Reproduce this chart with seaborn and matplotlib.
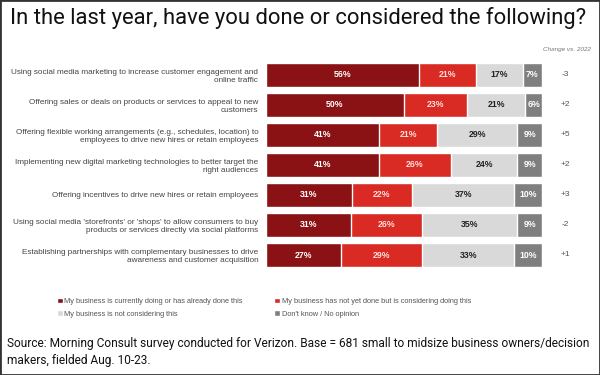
import numpy as np
import pandas as pd
import matplotlib.pyplot as plt
import seaborn as sns
from matplotlib.patches import Patch, Rectangle

# 데이터
items = [
    "Using social media marketing to increase customer engagement and\nonline traffic",
    "Offering sales or deals on products or services to appeal to new\ncustomers",
    "Offering flexible working arrangements (e.g., schedules, location) to\nemployees to drive new hires or retain employees",
    "Implementing new digital marketing technologies to better target the\nright audiences",
    "Offering incentives to drive new hires or retain employees",
    "Using social media 'storefronts' or 'shops' to allow consumers to buy\nproducts or services directly via social platforms",
    "Establishing partnerships with complementary businesses to drive\nawareness and customer acquisition",
]
doing = [56, 50, 41, 41, 31, 31, 27]
considering = [21, 23, 21, 26, 22, 26, 29]
not_considering = [17, 21, 29, 24, 37, 35, 33]
dont_know = [7, 6, 9, 9, 10, 9, 10]
change = ["-3", "+2", "+5", "+2", "+3", "-2", "+1"]

series_names = [
    "My business is currently doing or has already done this",
    "My business has not yet done but is considering doing this",
    "My business is not considering this",
    "Don't know / No opinion",
]
colors = ["#8a1114", "#d92b23", "#d9d9d9", "#7f7f7f"]
text_colors = ["white", "#fde0dc", "#222222", "white"]

sns.set_style("white")
plt.rcParams["font.family"] = ["Liberation Sans", "DejaVu Sans"]

df = pd.DataFrame({"item": items, "doing": doing, "considering": considering,
                   "not": not_considering, "dk": dont_know})
parts = ["doing", "considering", "not", "dk"]
# 반올림 때문에 합이 99~101 -> 100%로 맞춤
share = df[parts].div(df[parts].sum(axis=1), axis=0) * 100
cum = share.cumsum(axis=1)

fig = plt.figure(figsize=(6, 3.75), dpi=100)
ax = fig.add_axes([266 / 600, 1 - 270 / 375, 276 / 600, 210 / 375])

# 누적 막대: 큰 것부터 겹쳐 그리기
for k in range(3, -1, -1):
    sns.barplot(x=cum[parts[k]], y=df["item"], orient="h", color=colors[k],
                saturation=1, width=0.77, ax=ax)

ax.set_xlim(0, 100)
ax.set_xlabel("")
ax.set_ylabel("")
ax.set_xticks([])
for s in ax.spines.values():
    s.set_visible(False)
ax.tick_params(axis="y", length=0, pad=5.5)
for lab in ax.get_yticklabels():
    lab.set_fontsize(5.85)
    lab.set_color("#444444")
    lab.set_horizontalalignment("right")
    lab.set_multialignment("right")
    lab.set_linespacing(1.15)

# 값 라벨
for i in range(len(items)):
    left = 0
    for k, p in enumerate(parts):
        w = share[p][i]
        ax.text(left + w / 2, i, f"{df[p][i]}%", ha="center", va="center",
                fontsize=6.3, fontweight="bold", color=text_colors[k])
        left += w
    ax.text(108.5, i, change[i], ha="center", va="center", fontsize=6.0,
            color="#555555", clip_on=False)

fig.text(567 / 600, 1 - 49 / 375, "Change vs. 2022", ha="center", va="center",
         fontsize=4.6, style="italic", color="#777777")

fig.text(10 / 600, 1 - 18 / 375,
         "In the last year, have you done or considered the following?",
         ha="left", va="center", fontsize=15.8, family=["Roboto", "DejaVu Sans"],
         color="#111111")

handles = [Patch(facecolor=colors[k]) for k in [0, 2, 1, 3]]
labels = [series_names[k] for k in [0, 2, 1, 3]]
fig.legend(handles, labels, ncol=2, loc="upper left",
           bbox_to_anchor=(53 / 600, 1 - 294 / 375), frameon=False,
           fontsize=5.3, handlelength=0.8, handleheight=0.8, handletextpad=0.2,
           columnspacing=4.3, labelspacing=0.7, labelcolor="#555555",
           borderpad=0)

fig.text(7 / 600, 1 - 352 / 375,
         "Source: Morning Consult survey conducted for Verizon. Base = 681 small to midsize business owners/decision\nmakers, fielded Aug. 10-23.",
         ha="left", va="center", fontsize=8.6, family=["Roboto", "DejaVu Sans"],
         color="#111111", linespacing=1.4)

fig.patches.append(Rectangle((0, 0), 1, 1, transform=fig.transFigure,
                             fill=False, edgecolor="#333333", linewidth=2.0))

fig.savefig("out.png", dpi=100)
